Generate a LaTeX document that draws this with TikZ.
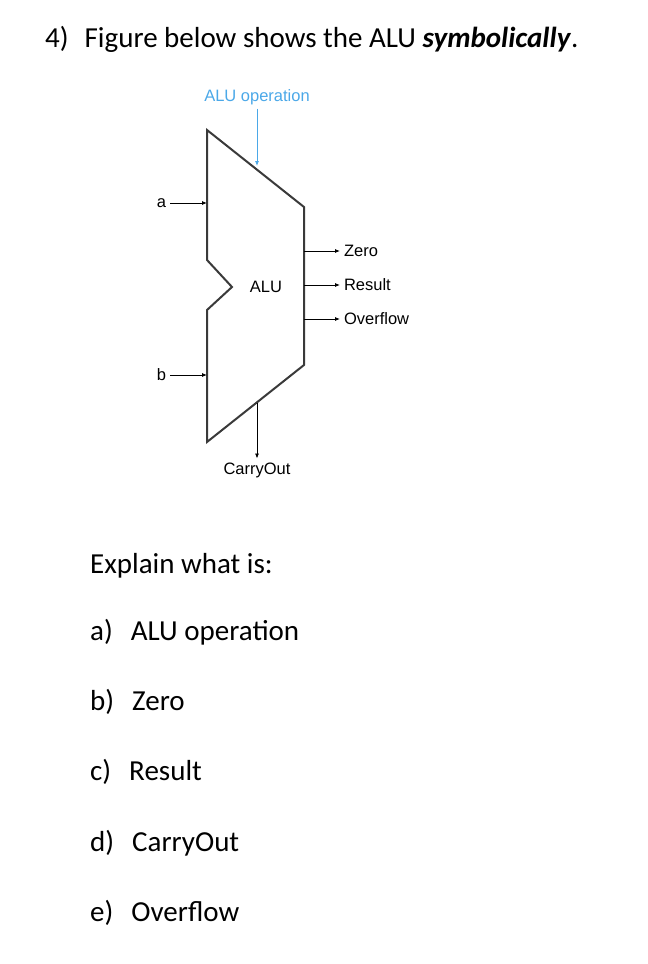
\documentclass[tikz,border=0pt]{standalone}
\usepackage{fontspec}
\setmainfont{Carlito}
\newfontfamily\diagfont{Liberation Sans}
\usetikzlibrary{arrows.meta}
\definecolor{opblue}{HTML}{4BA8E8}
\definecolor{edgegray}{HTML}{3A3A3A}
\begin{document}
\begin{tikzpicture}[%
        x = 1pt,
        y = -1pt,
        sig/.style = {%
            draw = black,
            line width = 0.8pt,
            -{Latex[length = 5pt, width = 4pt]}
        },
        lbl/.style = {%
            font = \diagfont\fontsize{16.5}{19}\selectfont,
            inner sep = 1pt,
            outer sep = 3pt
        },
        txt/.style = {%
            font = \fontsize{29}{34}\selectfont,
            anchor = base west,
            inner sep = 0pt
        }
    ]
        \useasboundingbox (0, 0) rectangle (648, 964);

        % Question heading.
        \node[txt] (head) at (45, 47) {4)\hspace{16pt}Figure below shows the ALU \textbf{\textit{symbolically}}.};

        % The ALU outline with its notch.
        \draw[edgegray, line width = 2pt, line join = miter]
            (207, 130) -- (304, 207) -- (304, 365) -- (207, 442)
            -- (207, 310) -- (232, 287) -- (207, 260) -- cycle;
        \node[lbl] (alu) at (266, 287) {ALU};

        % Inputs.
        \node[lbl, anchor = east] (a) at (170, 203) {a};
        \node[lbl, anchor = east] (b) at (170, 375) {b};
        \coordinate (ain) at (207, 203);
        \coordinate (bin) at (207, 375);
        \draw[sig] (a) -- (ain);
        \draw[sig] (b) -- (bin);

        % Control input.
        \node[lbl, text = opblue] (op) at (257, 97) {ALU operation};
        \coordinate (opin) at (257, 166);
        \draw[sig, draw = opblue] (op) -- (opin);

        % Outputs.
        \node[lbl, anchor = west] (zero) at (340, 251) {Zero};
        \node[lbl, anchor = west] (result) at (340, 285) {Result};
        \node[lbl, anchor = west] (overflow) at (340, 319) {Overflow};
        \coordinate (zout) at (304, 251);
        \coordinate (rout) at (304, 285);
        \coordinate (oout) at (304, 319);
        \draw[sig] (zout) -- (zero);
        \draw[sig] (rout) -- (result);
        \draw[sig] (oout) -- (overflow);

        \node[lbl] (carry) at (257, 470) {CarryOut};
        \coordinate (cout) at (257, 403);
        \draw[sig] (cout) -- (carry);

        % Questions.
        \node[txt] (ask) at (90, 573) {Explain what is:};
        \node[txt] (qa) at (90, 640) {a)\hspace{18pt}ALU operation};
        \node[txt] (qb) at (90, 710) {b)\hspace{18pt}Zero};
        \node[txt] (qc) at (90, 780) {c)\hspace{18pt}Result};
        \node[txt] (qd) at (90, 851) {d)\hspace{18pt}CarryOut};
        \node[txt] (qe) at (90, 921) {e)\hspace{18pt}Overflow};
    \end{tikzpicture}
\end{document}
